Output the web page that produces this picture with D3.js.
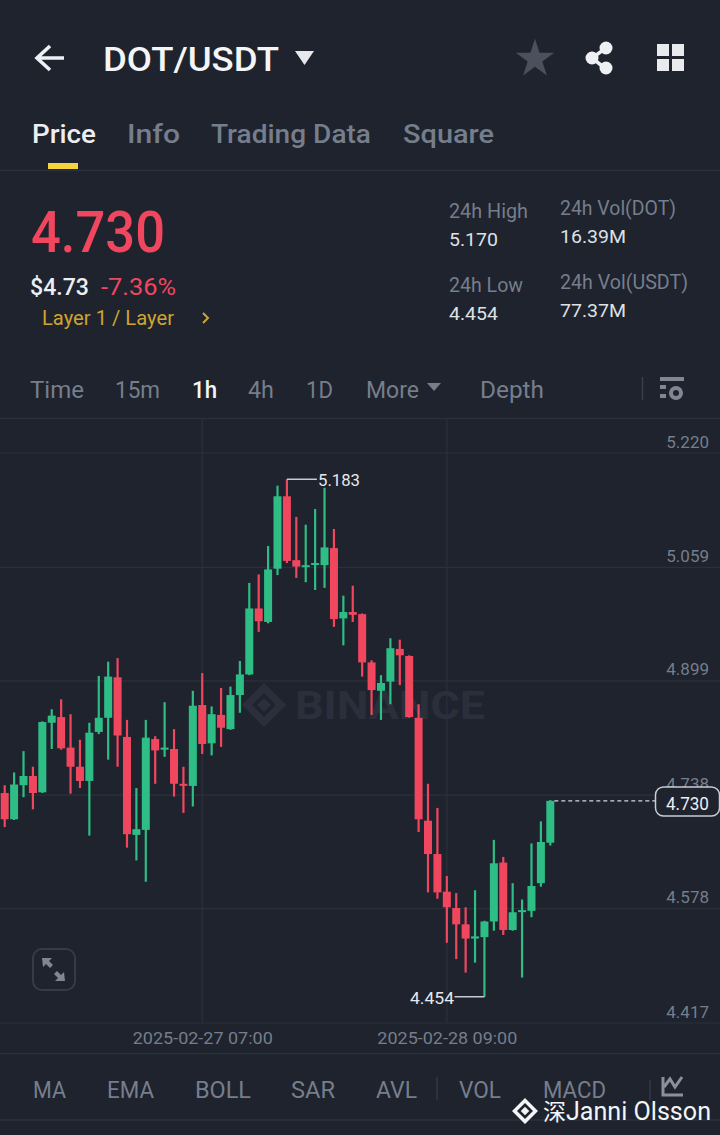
<!DOCTYPE html>
<html lang="en">
<head>
<meta charset="UTF-8">
<title>DOT/USDT</title>
<script src="https://d3js.org/d3.v7.min.js"></script>
<style>
  html, body { margin: 0; padding: 0; background: #1e232e; }
  svg { display: block; }
  text { font-family: Roboto, sans-serif; }
</style>
</head>
<body>
<svg id="chart" width="720" height="1135"></svg>
<script>
// hourly candles
const firstHour = new Date(Date.UTC(2025, 1, 26, 10));
const opens = [4.741,4.704,4.752,4.765,4.742,4.840,4.848,4.805,4.778,4.758,4.827,4.847,4.904,4.820,4.682,4.689,4.817,4.802,4.803,4.754,4.751,4.865,4.811,4.851,4.831,4.879,4.908,5.001,4.982,5.057,5.159,5.069,5.060,5.063,5.062,5.086,4.987,4.996,4.993,4.925,4.885,4.898,4.944,4.934,4.847,4.702,4.655,4.602,4.579,4.556,4.536,4.538,4.560,4.643,4.548,4.574,4.575,4.614,4.671];
const highs = [4.752,4.770,4.800,4.778,4.842,4.859,4.873,4.852,4.816,4.840,4.906,4.926,4.931,4.844,4.748,4.844,4.821,4.869,4.831,4.778,4.885,4.910,4.863,4.889,4.891,4.927,5.037,5.049,5.089,5.174,5.183,5.130,5.119,5.141,5.171,5.113,5.019,5.033,4.994,4.928,4.907,4.959,4.957,4.935,4.866,4.754,4.720,4.624,4.600,4.580,4.604,4.561,4.675,4.651,4.614,4.591,4.670,4.701,4.731];
const lows = [4.693,4.703,4.735,4.718,4.741,4.803,4.802,4.740,4.748,4.681,4.824,4.788,4.778,4.664,4.646,4.616,4.754,4.792,4.736,4.713,4.722,4.796,4.794,4.806,4.830,4.854,4.907,4.968,4.980,5.048,5.065,5.044,5.038,5.027,5.030,4.975,4.949,4.982,4.905,4.851,4.844,4.866,4.893,4.847,4.686,4.601,4.592,4.530,4.507,4.488,4.502,4.454,4.547,4.541,4.547,4.481,4.566,4.609,4.667];
const closes = [4.704,4.753,4.765,4.741,4.841,4.850,4.804,4.778,4.758,4.826,4.847,4.905,4.822,4.683,4.690,4.819,4.801,4.805,4.754,4.752,4.864,4.810,4.852,4.833,4.879,4.908,5.001,4.983,5.056,5.159,5.068,5.060,5.062,5.065,5.087,4.986,4.996,4.992,4.925,4.886,4.896,4.945,4.935,4.848,4.704,4.655,4.601,4.580,4.556,4.536,4.539,4.560,4.642,4.548,4.573,4.576,4.610,4.672,4.730];

const priceTicks = [5.220, 5.059, 4.899, 4.738, 4.578, 4.417];
const timeTicks = [new Date(Date.UTC(2025, 1, 27, 7)), new Date(Date.UTC(2025, 1, 28, 9))];
const lastPrice = 4.730;
const highPrice = 5.183;
const lowPrice = 4.454;

const tabs = ["Price", "Info", "Trading Data", "Square"];
const intervals = ["Time", "15m", "1h", "4h", "1D", "More", "Depth"];
const indicators = ["MA", "EMA", "BOLL", "SAR", "AVL", "VOL", "MACD"];

const bg = "#1e232e", line = "#2b303a", muted = "#767e8c", soft = "#dfe1e5";
const green = "#2ebd85", red = "#f0475f";

const svg = d3.select("#chart");
svg.append("rect").attr("width", 720).attr("height", 1135).attr("fill", bg);

function label(str, x, baseline, size, color, width, weight) {
  const t = svg.append("text").attr("x", x).attr("y", baseline)
    .attr("font-size", size).attr("fill", color).attr("font-weight", weight || 400).text(str);
  if (width) t.attr("textLength", width).attr("lengthAdjust", "spacingAndGlyphs");
  return t;
}

function hline(y, x1, x2, color) {
  svg.append("line").attr("x1", x1 || 0).attr("x2", x2 || 720).attr("y1", y).attr("y2", y)
    .attr("stroke", color || line).attr("stroke-width", 1.5);
}

// header
svg.append("path").attr("d", "M64 58H38M50 46L37 58L50 70").attr("fill", "none")
  .attr("stroke", "#eef0f3").attr("stroke-width", 3.6);
label("DOT/USDT", 103, 71, 33, "#f4f5f7", 176, 500);
svg.append("path").attr("d", "M295 51H314L304.500 65Z").attr("fill", "#e6e8ec");
svg.append("path").attr("d", d3.symbol(d3.symbolStar, 460)()).attr("transform", "translate(535,59)").attr("fill", "#4a505c");
svg.append("g").call(g => {
  g.append("path").attr("d", "M606 48L592 58L606 69").attr("fill", "none").attr("stroke", "#eef0f3").attr("stroke-width", 3.5);
  [[606, 48], [592, 58], [606, 68]].forEach(c => g.append("circle").attr("cx", c[0]).attr("cy", c[1]).attr("r", 6.5).attr("fill", "#eef0f3"));
});
[[657, 44], [672, 44], [657, 59], [672, 59]].forEach(c =>
  svg.append("rect").attr("x", c[0]).attr("y", c[1]).attr("width", 12).attr("height", 12).attr("fill", "#e8eaee"));

// tabs
const tabX = [32, 127, 211, 403], tabW = [64, 53, 160, 91];
tabs.forEach((s, i) => label(s, tabX[i], 143, 26, i === 0 ? "#eceef1" : muted, tabW[i], 500));
svg.append("rect").attr("x", 48).attr("y", 163).attr("width", 30).attr("height", 6).attr("fill", "#f5d33f");
hline(170.500);

// price block
label("4.730", 31, 252, 57, red, 134, 500);
label("$4.73", 30, 295, 23, "#eceef1", 59, 500);
label("-7.36%", 101, 295, 23, red, 75);
label("Layer 1 / Layer", 42, 325, 20, "#cfa52f", 132);
svg.append("path").attr("d", "M203 313L208 318L203 323").attr("fill", "none").attr("stroke", "#cfa52f").attr("stroke-width", 2);
label("24h High", 449, 218, 20, muted, 79);
label("5.170", 449, 246, 19, soft, 49);
label("24h Low", 449, 292, 20, muted, 74);
label("4.454", 449, 320, 19, soft, 49);
label("24h Vol(DOT)", 560, 215, 20, muted, 116);
label("16.39M", 560, 243, 19, soft, 66);
label("24h Vol(USDT)", 560, 289, 20, muted, 128);
label("77.37M", 560, 317, 19, soft, 66);

// interval row
const intX = [30, 115, 192, 248, 306, 366, 480], intW = [54, 45, 25, 26, 27, 53, 64];
intervals.forEach((s, i) => label(s, intX[i], 398, 23, i === 2 ? "#f4f5f7" : muted, intW[i], i === 2 ? 500 : 400));
svg.append("path").attr("d", "M427 383H441L434 391Z").attr("fill", muted);
svg.append("line").attr("x1", 642.500).attr("x2", 642.500).attr("y1", 377).attr("y2", 400).attr("stroke", "#3a3f4a").attr("stroke-width", 1.5);
svg.append("rect").attr("x", 660).attr("y", 377).attr("width", 24).attr("height", 4).attr("fill", "#7f8794");
[385, 394].forEach(y => svg.append("rect").attr("x", 660).attr("y", y).attr("width", 6).attr("height", 4).attr("fill", "#7f8794"));
svg.append("circle").attr("cx", 676).attr("cy", 393).attr("r", 5).attr("fill", "none").attr("stroke", "#7f8794").attr("stroke-width", 4);
hline(418.500);

// scales
const y = d3.scaleLinear().domain([5.220, 4.417]).range([453, 1023]);
const x = d3.scaleUtc().domain([firstHour, d3.utcHour.offset(firstHour, 58)]).range([4.7, 550.3]);

// grid
svg.append("g").selectAll("line").data(priceTicks).join("line")
  .attr("x1", 0).attr("x2", 720).attr("y1", d => y(d)).attr("y2", d => y(d))
  .attr("stroke", line).attr("stroke-width", 1.2);
svg.append("g").selectAll("line").data(timeTicks).join("line")
  .attr("x1", d => x(d)).attr("x2", d => x(d)).attr("y1", 419).attr("y2", 1023)
  .attr("stroke", line).attr("stroke-width", 1.2);

// watermark behind the candles
const mark = svg.append("g").attr("fill", "#2a2f3b");
mark.append("path").attr("fill-rule", "evenodd")
  .attr("d", "M264 682L286 704L264 726L242 704ZM264 692L252 704L264 716L276 704Z")
  .attr("transform", "translate(0,1)");
mark.append("rect").attr("x", -5).attr("y", -5).attr("width", 10).attr("height", 10).attr("transform", "translate(264,705) rotate(45)");
mark.append("rect").attr("x", -4).attr("y", -4).attr("width", 8).attr("height", 8).attr("transform", "translate(280,705) rotate(45)");
mark.append("text").attr("x", 295).attr("y", 719).attr("font-size", 38).attr("font-weight", 700)
  .attr("textLength", 190).attr("lengthAdjust", "spacingAndGlyphs").text("BINANCE");

// price axis, labels sit above their grid lines
svg.append("g").attr("transform", "translate(709,0)")
  .call(d3.axisRight(y).tickValues(priceTicks).tickFormat(d3.format(".3f")).tickSize(0).tickPadding(0))
  .call(g => g.select(".domain").remove())
  .selectAll("text").attr("text-anchor", "end").attr("dy", "-6px").attr("dx", 0)
  .attr("font-size", 17).attr("font-family", "Roboto, sans-serif").attr("fill", muted);

// time axis
svg.append("g").attr("transform", "translate(0,1023)")
  .call(d3.axisBottom(x).tickValues(timeTicks).tickFormat(d3.utcFormat("%Y-%m-%d %H:%M")).tickSize(0).tickPadding(9))
  .call(g => g.select(".domain").remove())
  .selectAll("text").attr("font-size", 17).attr("font-family", "Roboto, sans-serif").attr("fill", muted)
  .attr("textLength", 140).attr("lengthAdjust", "spacingAndGlyphs");

// candles
const candles = svg.append("g").selectAll("g").data(opens).join("g")
  .attr("fill", (d, i) => closes[i] >= d ? green : red);
candles.append("rect")
  .attr("x", (d, i) => x(d3.utcHour.offset(firstHour, i)) - 1.1).attr("width", 2.2)
  .attr("y", (d, i) => y(highs[i])).attr("height", (d, i) => y(lows[i]) - y(highs[i]));
candles.append("rect")
  .attr("x", (d, i) => x(d3.utcHour.offset(firstHour, i)) - 4).attr("width", 8)
  .attr("y", (d, i) => y(Math.max(d, closes[i])))
  .attr("height", (d, i) => Math.max(2, Math.abs(y(d) - y(closes[i]))));

// high / low markers
const highHour = d3.utcHour.offset(firstHour, highs.indexOf(highPrice));
const lowHour = d3.utcHour.offset(firstHour, lows.indexOf(lowPrice));
hline(y(highPrice), x(highHour), x(highHour) + 30, "#c9ccd2");
label(d3.format(".3f")(highPrice), 318, y(highPrice) + 7, 17, "#e6e8eb", 42);
hline(y(lowPrice), x(lowHour) - 30, x(lowHour), "#c9ccd2");
label(d3.format(".3f")(lowPrice), 410, y(lowPrice) + 7, 17, "#e6e8eb", 44);

// last price
svg.append("line").attr("x1", x(d3.utcHour.offset(firstHour, 58)) + 4).attr("x2", 655)
  .attr("y1", y(lastPrice)).attr("y2", y(lastPrice))
  .attr("stroke", "#d5d8dc").attr("stroke-width", 1.2).attr("stroke-dasharray", "4 3");
svg.append("rect").attr("x", 655.500).attr("y", 787).attr("width", 64).attr("height", 29).attr("rx", 8)
  .attr("fill", bg).attr("stroke", "#c9ccd2").attr("stroke-width", 1.5);
label(d3.format(".3f")(lastPrice), 666, 810, 18, "#eceef1", 43);

// expand button
svg.append("rect").attr("x", 33).attr("y", 949).attr("width", 42).attr("height", 41).attr("rx", 9)
  .attr("fill", "none").attr("stroke", "#363b46").attr("stroke-width", 2);
svg.append("path").attr("fill", "#7f8794")
  .attr("d", "M42 958H52L49 961L53 965L50 968L46 964L43 967ZM65 981H55L58 978L54 974L57 971L61 975L64 972Z");

// bottom row
hline(1053.500);
const indX = [33, 107, 195, 291, 376, 459, 543], indW = [33, 47, 56, 44, 41, 42, 63];
indicators.forEach((s, i) => label(s, indX[i], 1098, 23, muted, indW[i]));
svg.append("line").attr("x1", 437).attr("x2", 437).attr("y1", 1077).attr("y2", 1100).attr("stroke", "#343944").attr("stroke-width", 1.5);
svg.append("line").attr("x1", 650).attr("x2", 650).attr("y1", 1080).attr("y2", 1100).attr("stroke", "#343944").attr("stroke-width", 1.5);
svg.append("path").attr("fill", "none").attr("stroke", "#8a919d").attr("stroke-width", 3)
  .attr("d", "M663 1077V1095H683M664 1087L670 1079L675 1087L682 1077");
hline(1120);

// repost stamp
const stamp = svg.append("g").attr("fill", "#f4f5f7");
stamp.append("path").attr("fill-rule", "evenodd")
  .attr("d", "M525 1098L538 1111L525 1124L512 1111ZM525 1103L517 1111L525 1119L533 1111Z");
stamp.append("rect").attr("x", -3).attr("y", -3).attr("width", 6).attr("height", 6).attr("transform", "translate(525,1111) rotate(45)");
label("深", 543, 1120, 23, "#f4f5f7").style("font-family", "'Noto Sans CJK SC'");
label("Janni Olsson", 566, 1120, 25, "#f4f5f7", 145);
</script>
</body>
</html>
